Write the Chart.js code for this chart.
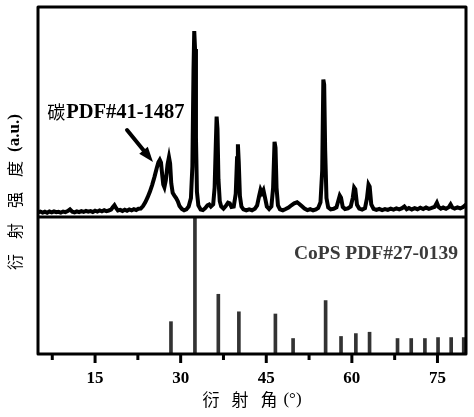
<!DOCTYPE html>
<html>
<head>
<meta charset="utf-8">
<script src="https://cdn.jsdelivr.net/npm/chart.js@4"></script>
<style>
  html, body { margin: 0; padding: 0; background: #fff; }
  #c { display: block; }
</style>
</head>
<body>
<canvas id="c" width="474" height="417"></canvas>
<script>
// measured XRD scan of the sample: [2theta, intensity a.u.]
const xrdScan = [
  [5.0,2.2],[5.4,2.6],[5.8,2.1],[6.2,2.5],[6.6,2.0],[7.0,2.6],[7.4,2.2],[7.8,2.7],[8.2,2.3],[8.6,2.5],
  [9.0,2.1],[9.4,2.6],[9.8,2.3],[10.2,2.8],[10.6,3.6],[11.0,2.5],[11.4,2.2],[11.8,2.7],[12.2,2.3],[12.6,2.8],
  [13.0,2.4],[13.4,2.9],[13.8,2.5],[14.2,2.8],[14.6,2.4],[15.0,3.0],[15.4,2.6],[15.8,3.1],[16.2,2.7],[16.6,3.2],
  [17.0,2.8],[17.4,3.1],[17.8,3.5],[18.1,4.6],[18.4,5.6],[18.7,4.2],[19.0,3.1],[19.4,3.4],[19.8,2.9],[20.2,3.5],
  [20.6,3.0],[21.0,3.6],[21.4,3.2],[21.8,3.7],[22.2,3.3],[22.6,3.9],[23.0,4.0],[23.4,5.2],[23.8,7.0],[24.2,9.3],
  [24.6,12.0],[25.0,15.2],[25.4,19.0],[25.8,23.2],[26.1,26.0],[26.35,27.2],[26.55,26.0],[26.75,20.5],[26.95,15.5],[27.15,14.2],
  [27.4,17.5],[27.7,25.0],[27.95,28.5],[28.15,25.5],[28.35,16.0],[28.6,11.5],[28.9,10.2],[29.2,9.0],[29.5,7.5],[29.8,5.2],
  [30.2,3.8],[30.6,3.2],[31.0,3.6],[31.4,5.0],[31.8,9.0],[32.05,24.0],[32.25,70.0],[32.38,88.5],[32.52,80.0],[32.68,38.0],
  [32.85,12.0],[33.1,5.5],[33.5,3.6],[33.9,3.3],[34.3,4.2],[34.7,5.6],[35.0,6.0],[35.3,5.0],[35.7,6.0],[35.95,14.0],
  [36.15,34.0],[36.3,47.8],[36.45,42.0],[36.62,18.0],[36.85,7.5],[37.1,5.0],[37.5,4.0],[37.9,5.2],[38.3,6.8],[38.6,6.5],
  [38.9,4.8],[39.3,5.0],[39.65,11.0],[39.88,28.0],[40.03,34.6],[40.18,26.0],[40.38,10.0],[40.65,5.0],[41.0,3.6],[41.5,3.1],
  [42.0,3.6],[42.5,3.2],[43.0,3.9],[43.4,5.5],[43.75,10.0],[44.0,13.0],[44.25,11.5],[44.5,12.8],[44.8,9.0],[45.1,5.0],
  [45.5,3.8],[45.9,5.0],[46.2,14.0],[46.45,35.8],[46.62,33.0],[46.8,14.0],[47.05,5.5],[47.4,3.6],[47.9,3.2],[48.4,3.8],
  [48.9,4.5],[49.4,5.6],[49.9,6.5],[50.4,7.0],[50.8,6.2],[51.2,5.2],[51.7,4.0],[52.2,3.3],[52.7,3.7],[53.2,3.2],
  [53.7,3.6],[54.1,4.3],[54.5,7.0],[54.8,22.0],[55.0,65.5],[55.15,63.0],[55.32,32.0],[55.55,9.0],[55.85,4.6],[56.3,3.6],
  [56.8,3.9],[57.3,4.6],[57.65,8.0],[57.88,10.2],[58.1,9.2],[58.4,4.8],[58.8,3.8],[59.3,4.1],[59.8,5.0],[60.15,9.0],
  [60.4,14.0],[60.6,13.2],[60.9,5.8],[61.3,4.0],[61.8,3.5],[62.3,4.2],[62.65,9.0],[62.92,15.5],[63.12,14.5],[63.4,6.0],
  [63.8,3.9],[64.3,3.4],[64.8,3.9],[65.3,3.3],[65.8,3.8],[66.3,3.4],[66.8,4.0],[67.3,3.5],[67.8,4.1],[68.3,3.6],
  [68.8,4.2],[69.2,5.0],[69.6,3.7],[70.0,4.3],[70.5,3.6],[71.0,4.2],[71.5,3.7],[72.0,4.4],[72.5,3.8],[73.0,4.5],
  [73.5,3.9],[74.0,4.3],[74.5,4.8],[74.9,6.8],[75.2,4.8],[75.6,4.0],[76.0,4.5],[76.5,3.9],[77.0,4.7],[77.3,6.0],
  [77.6,4.5],[78.0,4.0],[78.5,4.6],[79.0,4.1],[79.5,4.7],[79.8,5.4],[80.0,5.0]
];

// CoPS reference card PDF#27-0139
const copsAngles    = [28.3, 32.5, 36.6, 40.2, 46.6, 49.7, 55.4, 58.1, 60.7, 63.1, 68.0, 70.4, 72.8, 75.1, 77.4, 79.6];
const copsIntensity = [23.6, 100, 43.6, 30.8, 29.2, 11.3, 39.0, 12.8, 14.9, 15.9, 11.3, 11.3, 11.3, 12.0, 12.0, 12.0];

const angleTicks = [15, 30, 45, 60, 75];
const minorTicks = [7.5, 22.5, 37.5, 52.5, 67.5];

const CJK = '"Noto Sans CJK SC", sans-serif';
const SERIF = '"Liberation Serif", "Times New Roman", serif';

// draw a run of text pieces left to right: [text, font, gapAfter]
function drawRun(ctx, pieces, cx, cy) {
  let total = 0;
  pieces.forEach(p => { ctx.font = p[1]; total += ctx.measureText(p[0]).width + (p[2] || 0); });
  let x = cx - total / 2;
  ctx.textAlign = 'left';
  ctx.textBaseline = 'middle';
  pieces.forEach(p => {
    ctx.font = p[1];
    ctx.fillText(p[0], x, cy);
    x += ctx.measureText(p[0]).width + (p[2] || 0);
  });
}

const decor = {
  id: 'decor',
  afterDraw(chart) {
    const { ctx, chartArea: a, scales } = chart;
    const x = scales.x, yTop = scales.yTop, yBot = scales.yBot;
    ctx.save();
    ctx.strokeStyle = '#000';
    ctx.lineWidth = 3;
    ctx.lineJoin = 'round';
    ctx.strokeRect(a.left, a.top, a.right - a.left, a.bottom - a.top);
    ctx.beginPath();
    ctx.moveTo(a.left, yTop.bottom);
    ctx.lineTo(a.right, yTop.bottom);
    ctx.stroke();

    // outward ticks, long on labelled values
    x.ticks.forEach(t => {
      const px = x.getPixelForValue(t.value);
      const len = angleTicks.includes(t.value) ? 9 : 6;
      ctx.beginPath();
      ctx.moveTo(px, a.bottom);
      ctx.lineTo(px, a.bottom + len);
      ctx.stroke();
    });

    // arrow to the carbon hump
    const x0 = x.getPixelForValue(20.6), y0 = yTop.getPixelForValue(41.4);
    const x1 = x.getPixelForValue(25.15), y1 = yTop.getPixelForValue(26.2);
    const ang = Math.atan2(y1 - y0, x1 - x0);
    const head = 15;
    const hx = x1 - head * Math.cos(ang), hy = y1 - head * Math.sin(ang);
    ctx.lineWidth = 4;
    ctx.lineCap = 'round';
    ctx.beginPath();
    ctx.moveTo(x0, y0);
    ctx.lineTo(hx, hy);
    ctx.stroke();
    ctx.fillStyle = '#000';
    ctx.beginPath();
    ctx.moveTo(x1, y1);
    ctx.lineTo(hx + 5.5 * Math.sin(ang), hy - 5.5 * Math.cos(ang));
    ctx.lineTo(hx - 5.5 * Math.sin(ang), hy + 5.5 * Math.cos(ang));
    ctx.closePath();
    ctx.fill();

    // phase labels
    ctx.fillStyle = '#000';
    ctx.textBaseline = 'middle';
    ctx.textAlign = 'left';
    let lx = x.getPixelForValue(6.6);
    const ly = yTop.getPixelForValue(50);
    ctx.font = '18px ' + CJK;
    ctx.fillText('碳', lx, ly);
    lx += ctx.measureText('碳').width + 1;
    ctx.font = 'bold 20.5px ' + SERIF;
    ctx.fillText('PDF#41-1487', lx, ly + 1);

    ctx.fillStyle = '#3a3a3a';
    ctx.textAlign = 'right';
    ctx.font = 'bold 19.5px ' + SERIF;
    ctx.fillText('CoPS PDF#27-0139', x.getPixelForValue(78.6), yBot.getPixelForValue(73));

    // axis titles
    ctx.fillStyle = '#000';
    drawRun(ctx, [
      ['衍', '17px ' + CJK, 12],
      ['射', '17px ' + CJK, 12],
      ['角', '17px ' + CJK, 6],
      ['(°)', '17px ' + SERIF, 0]
    ], (a.left + a.right) / 2, 400);

    ctx.translate(15, 192);
    ctx.rotate(-Math.PI / 2);
    drawRun(ctx, [
      ['衍', '16px ' + CJK, 15],
      ['射', '16px ' + CJK, 15],
      ['强', '16px ' + CJK, 15],
      ['度', '16px ' + CJK, 9],
      ['(a.u.)', 'bold 17px ' + SERIF, 0]
    ], 0, 0);
    ctx.restore();
  }
};

const hiddenY = {
  type: 'linear', position: 'left', stack: 'xrd',
  min: 0, max: 100,
  ticks: { display: false },
  grid: { display: false, drawTicks: false },
  border: { display: false }
};

new Chart(document.getElementById('c'), {
  type: 'line',
  data: {
    datasets: [
      {
        type: 'line',
        data: xrdScan.map(p => ({ x: p[0], y: p[1] })),
        xAxisID: 'x',
        yAxisID: 'yTop',
        borderColor: '#000',
        borderWidth: 4,
        pointRadius: 0,
        tension: 0,
        fill: false
      },
      {
        type: 'bar',
        data: copsAngles.map((a, i) => ({ x: a, y: copsIntensity[i] })),
        xAxisID: 'x',
        yAxisID: 'yBot',
        backgroundColor: '#333',
        barThickness: 3,
        grouped: false
      }
    ]
  },
  options: {
    responsive: false,
    animation: false,
    layout: { padding: { left: 38, right: 8, top: 7, bottom: 0 } },
    plugins: { legend: { display: false }, tooltip: { enabled: false } },
    scales: {
      x: {
        type: 'linear',
        min: 5,
        max: 80,
        offset: false,
        afterFit: s => { s.height = 63; s.paddingLeft = 0; s.paddingRight = 0; },
        afterBuildTicks: s => {
          s.ticks = minorTicks.concat(angleTicks).sort((p, q) => p - q).map(v => ({ value: v }));
        },
        border: { display: false },
        grid: { display: false, drawTicks: false },
        ticks: {
          autoSkip: false,
          maxRotation: 0,
          padding: 14,
          color: '#000',
          font: { family: SERIF, weight: 'bold', size: 17 },
          callback: v => angleTicks.includes(v) ? String(v) : ''
        }
      },
      yTop: Object.assign({}, hiddenY, { stackWeight: 210, weight: 2 }),
      yBot: Object.assign({}, hiddenY, { stackWeight: 137, weight: 1 })
    }
  },
  plugins: [decor]
});
</script>
</body>
</html>
